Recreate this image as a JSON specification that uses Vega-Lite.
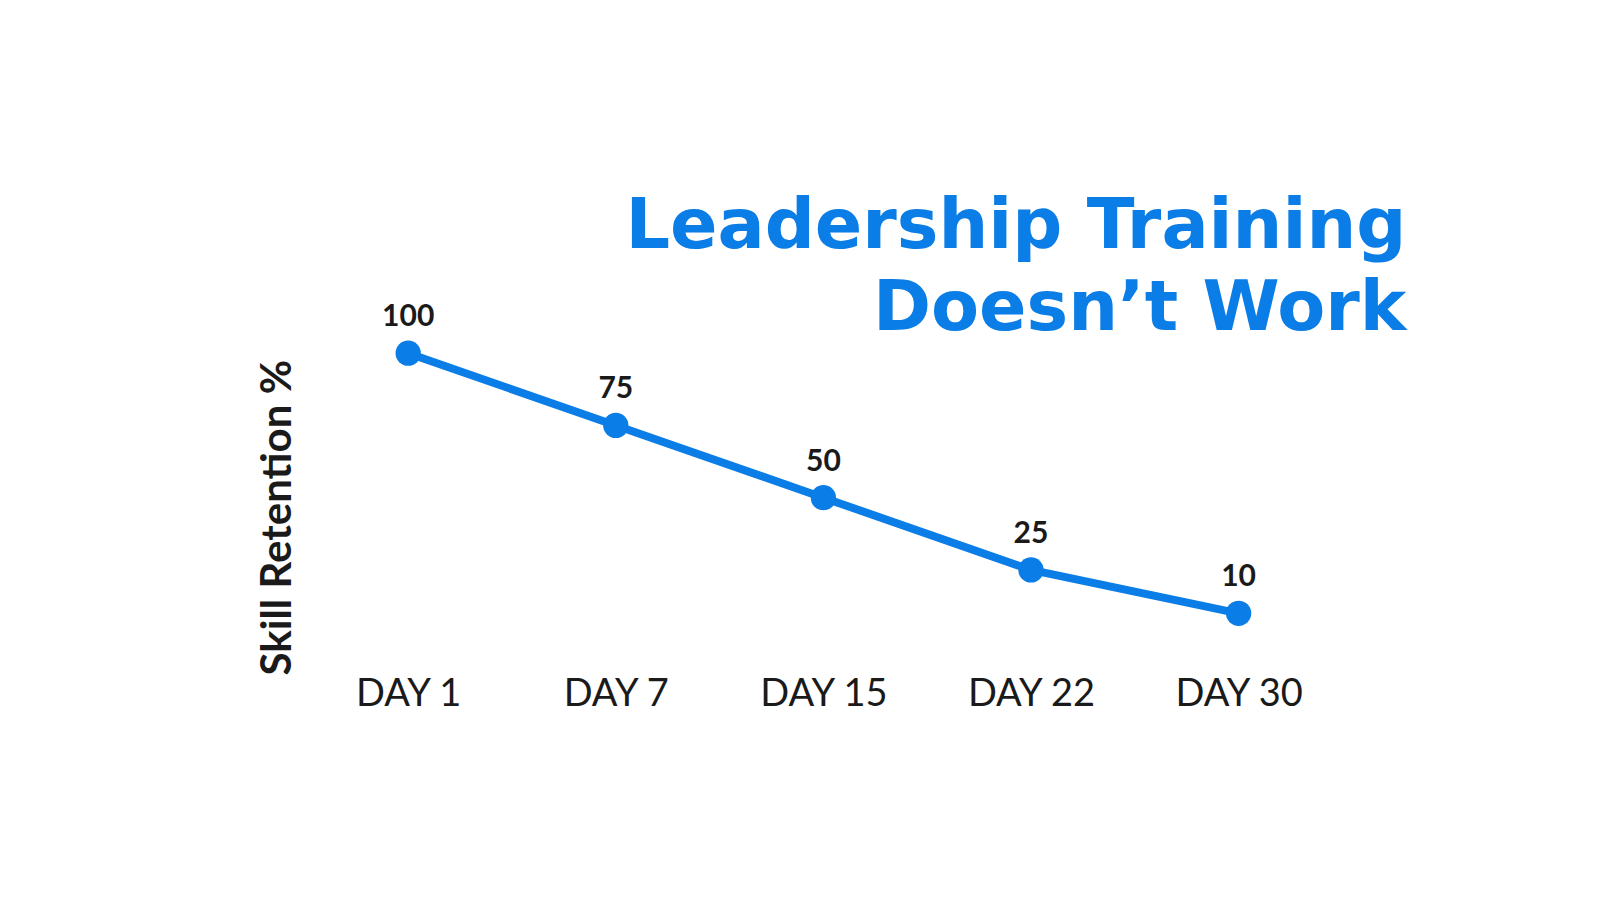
{
  "$schema": "https://vega.github.io/schema/vega-lite/v6.json",
  "autosize": {"type": "none"},
  "width": 1038,
  "height": 289,
  "padding": {"left": 304.4, "top": 353.2, "right": 257.6, "bottom": 257.8},
  "background": "white",
  "title": {
    "text": ["Leadership Training", "Doesn’t Work"],
    "anchor": "end",
    "dx": 64,
    "dy": 63,
    "offset": 20,
    "font": "DejaVu Sans",
    "fontSize": 70,
    "fontWeight": "bold",
    "color": "#0a7de6",
    "lineHeight": 82
  },
  "config": {"view": {"stroke": null}},
  "data": {
    "values": [
      {"day": "DAY 1", "retention": 100},
      {"day": "DAY 7", "retention": 75},
      {"day": "DAY 15", "retention": 50},
      {"day": "DAY 22", "retention": 25},
      {"day": "DAY 30", "retention": 10}
    ]
  },
  "encoding": {
    "x": {
      "field": "day",
      "type": "ordinal",
      "sort": null,
      "scale": {"type": "point", "padding": 0.5},
      "axis": {
        "title": null,
        "domain": false,
        "ticks": false,
        "labelAngle": 0,
        "labelFont": "Lato",
        "labelFontSize": 38,
        "labelColor": "#1a1a1a",
        "labelPadding": 33
      }
    },
    "y": {
      "field": "retention",
      "type": "quantitative",
      "scale": {"domain": [0, 100], "nice": false, "zero": true},
      "axis": {
        "title": "Skill Retention %",
        "titleFont": "Lato",
        "titleFontSize": 42,
        "titleFontWeight": "bold",
        "titleColor": "#1a1a1a",
        "titleAngle": -90,
        "titleAlign": "center",
        "titleBaseline": "middle",
        "titleX": -27,
        "titleY": 164,
        "labels": false,
        "ticks": false,
        "domain": false,
        "grid": false
      }
    }
  },
  "layer": [
    {
      "mark": {"type": "line", "color": "#0a7de6", "strokeWidth": 8}
    },
    {
      "mark": {"type": "circle", "color": "#0a7de6", "opacity": 1, "size": 640}
    },
    {
      "mark": {
        "type": "text",
        "dy": -27,
        "baseline": "alphabetic",
        "font": "Lato",
        "fontSize": 30,
        "fontWeight": "bold",
        "color": "#1a1a1a"
      },
      "encoding": {"text": {"field": "retention", "type": "quantitative"}}
    }
  ]
}
